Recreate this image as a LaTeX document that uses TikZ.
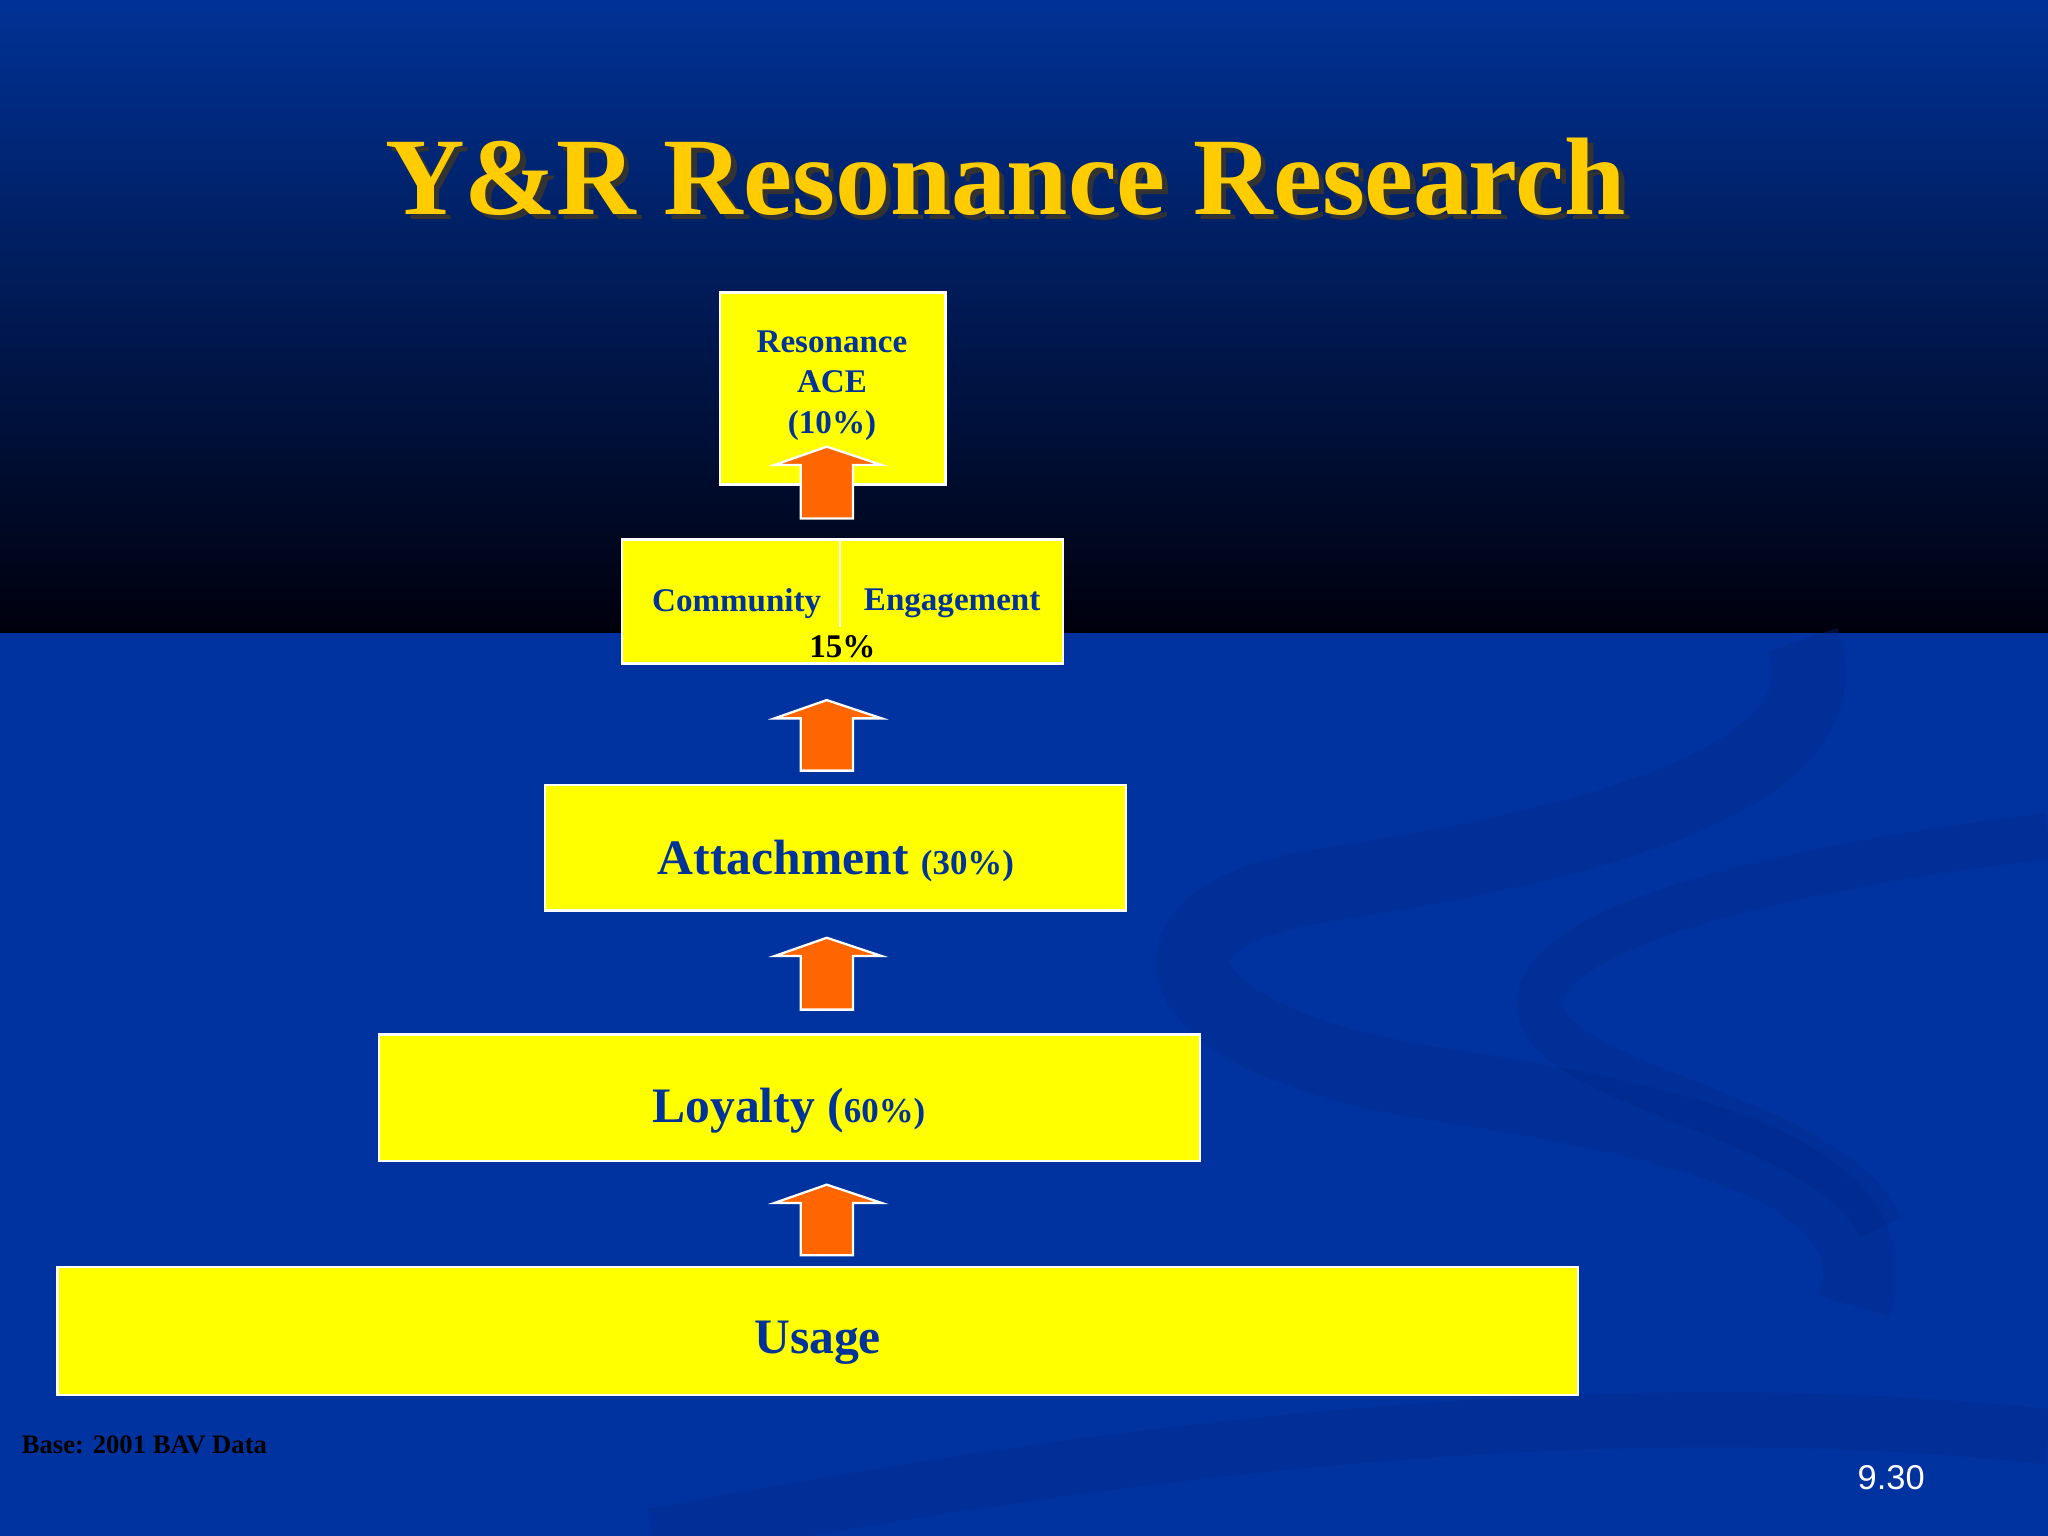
\documentclass[tikz,border=0pt]{standalone}
\usepackage{fontspec}
\setmainfont{Liberation Serif}
\setsansfont{Liberation Sans}
\begin{document}
\begin{tikzpicture}[x=0.01cm,y=-0.01cm,
  box/.style={draw=white,line width=0.5pt,fill=ybox},
  arr/.style={draw=white,line width=0.5pt,fill=orarr},
  btxt/.style={text=tblue,font=\bfseries,align=center,inner sep=0pt}]
\definecolor{ybox}{RGB}{255,255,0}
\definecolor{orarr}{RGB}{255,102,0}
\definecolor{tblue}{RGB}{0,51,153}
\definecolor{bgb}{RGB}{0,51,160}
\definecolor{bgtop}{RGB}{0,50,150}
\definecolor{swirl}{RGB}{0,40,135}
\definecolor{ttl}{RGB}{255,204,0}
\useasboundingbox (0,0) rectangle (1568,1176);
\fill[bgb] (0,484) rectangle (1568,1176);
\shade[top color=bgtop,bottom color=black!95!blue] (0,0) rectangle (1568,484);
% decorative swirls
\draw[swirl,line width=16pt,opacity=0.35] (1380,490) .. controls (1420,600) and (1200,650) .. (1000,680) .. controls (850,710) and (900,800) .. (1100,830) .. controls (1300,860) and (1450,900) .. (1420,1000);
\draw[swirl,line width=10pt,opacity=0.3] (1568,640) .. controls (1400,660) and (1200,700) .. (1180,760) .. controls (1160,830) and (1400,850) .. (1440,940);
\draw[swirl,line width=12pt,opacity=0.3] (500,1176) .. controls (800,1120) and (1200,1060) .. (1568,1100);
% title
\node[text=black!80,font=\bfseries\fontsize{24}{29}\selectfont] at (774,139) {Y\&R Resonance Research};
\node[text=ttl,font=\bfseries\fontsize{24}{29}\selectfont] (title) at (770,135) {Y\&R Resonance Research};
% boxes
\draw[box] (551,224) rectangle (724,371);
\node[btxt,font=\bfseries\fontsize{7.2}{8.8}\selectfont] (res) at (637,295) {Resonance\\ACE\\(10\%)};
\draw[box] (476,413) rectangle (814,508);
\draw[white,line width=0.5pt] (643,413) -- (643,480);
\node[btxt,font=\bfseries\fontsize{7.2}{9}\selectfont] (com) at (564,462) {Community};
\node[btxt,font=\bfseries\fontsize{7.2}{9}\selectfont] (eng) at (729,462) {Engagement};
\node[btxt,text=black,font=\bfseries\fontsize{7.2}{9}\selectfont] (pct) at (645,495) {15\%};
\draw[box] (417,601) rectangle (862,697);
\node[btxt,font=\bfseries\fontsize{10.8}{13}\selectfont] (att) at (640,659) {Attachment {\fontsize{7.6}{9}\selectfont(30\%)}};
\draw[box] (290,792) rectangle (919,889);
\node[btxt,font=\bfseries\fontsize{10.8}{13}\selectfont] (loy) at (604,850) {Loyalty ({\fontsize{7.6}{9}\selectfont 60\%)}};
\draw[box] (44,970) rectangle (1208,1068);
\node[btxt,font=\bfseries\fontsize{10.8}{13}\selectfont] (use) at (626,1028) {Usage};
% arrows
\foreach \t/\b in {342/397,536/590,718/773,907/961}{
  \draw[arr] (613,\b) -- (613,\t+14) -- (593,\t+14) -- (633,\t) -- (675,\t+14) -- (653,\t+14) -- (653,\b) -- cycle;
}
\node[anchor=west,font=\bfseries\fontsize{5.8}{7}\selectfont,text=black,inner sep=0pt] (base) at (16,1106) {Base: 2001 BAV Data};
\node[font=\sffamily\fontsize{7.5}{9}\selectfont,text=white,inner sep=0pt] (num) at (1448,1131) {9.30};
\end{tikzpicture}
\end{document}
